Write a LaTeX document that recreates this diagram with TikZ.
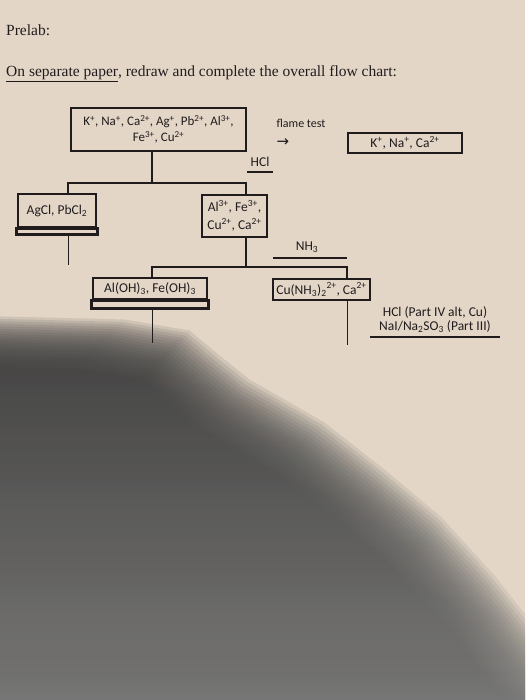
\documentclass[tikz,border=0pt]{standalone}
\usepackage{fontspec}
\setmainfont{Liberation Serif}
\newfontfamily\calib{Carlito}
\newfontfamily\dejavu{DejaVu Sans}
\definecolor{paper}{RGB}{227,214,198}
\definecolor{shade}{RGB}{70,58,84}
\definecolor{ink}{RGB}{32,28,30}
\begin{document}
\begin{tikzpicture}[x=1pt,y=-1pt,
  lbl/.style={font=\calib\fontsize{13.5}{15}\selectfont, text=ink, inner sep=0pt},
  thickbox/.style={draw=ink, line width=2.6pt, inner sep=0pt, lbl},
  thinbox/.style={draw=ink, line width=1.3pt, inner sep=0pt, lbl},
  wire/.style={draw=ink, line width=2.6pt},
  uline/.style={draw=ink, line width=2pt},
  thinwire/.style={draw=ink, line width=0.9pt},
]
\fill[paper] (0,0) rectangle (525,700);
\useasboundingbox (0,0) rectangle (525,700);
\begin{scope}
  \clip (0,0) rectangle (525,700);
  \foreach \s in {-35,-31.5,...,36} {
    \fill[shade, opacity=0.062, xshift=-0.7*\s pt, yshift=-0.7*\s pt]
      (-60,340) -- (100,344) -- (165,355) -- (195,380) -- (225,404) -- (300,447)
      -- (360,494) -- (417,542) -- (470,600) -- (500,638) -- (530,674)
      -- (620,780) -- (-60,780) -- cycle;
  }
\end{scope}

% heading
\node[anchor=base west, font=\fontsize{15.5}{18}\selectfont, text=ink, inner sep=0pt] (prelab) at (6,36) {Prelab:};
\node[anchor=base west, font=\fontsize{15.5}{18}\selectfont, text=ink, inner sep=0pt] (instr) at (6,77) {\underline{On separate paper}, redraw and complete the overall flow chart:};

% boxes
\node[thickbox, minimum width=175pt, minimum height=43pt, align=center, font=\calib\fontsize{13}{16}\selectfont] (mix0) at (158.5,129.5)
  {K\textsuperscript{+}, Na\textsuperscript{+}, Ca\textsuperscript{2+}, Ag\textsuperscript{+}, Pb\textsuperscript{2+}, Al\textsuperscript{3+},\\ Fe\textsuperscript{3+}, Cu\textsuperscript{2+}};
\node[lbl, font=\calib\fontsize{12}{14}\selectfont] (flame) at (301,123) {flame test};
\node[lbl, font=\dejavu\fontsize{15}{17}\selectfont] (arr) at (283,143) {→};
\node[thinbox, minimum width=114pt, minimum height=20pt] (kbox) at (405,143) {K\textsuperscript{+}, Na\textsuperscript{+}, Ca\textsuperscript{2+}};
\node[lbl] (hcl) at (260,162) {HCl};
\coordinate (hclA) at (247,172); \coordinate (hclB) at (273,172);
\draw[uline] (hclA) -- (hclB);

\node[thickbox, minimum width=78pt, minimum height=33pt] (agc) at (57,210.5) {AgCl, PbCl\textsubscript{2}};
\coordinate (agb) at ([yshift=-6pt]agc.south east);
\draw[wire] (agc.south west) rectangle (agb);
\node[thickbox, minimum width=65pt, minimum height=42pt, align=center, font=\calib\fontsize{13.5}{18}\selectfont] (mix1) at (234.5,216)
  {Al\textsuperscript{3+}, Fe\textsuperscript{3+},\\ Cu\textsuperscript{2+}, Ca\textsuperscript{2+}};

\coordinate (j0) at (152,183);
\coordinate (jl) at (68,183);
\coordinate (jr) at (246,183);
\draw[wire] (mix0.south -| j0) -- (j0);
\draw[wire] (agc.north -| jl) -- (jl) -- (jr) -- (mix1.north -| jr);
\coordinate (agend) at (68,265);
\draw[thinwire] (agb -| jl) -- (agend);

\node[lbl] (nh3) at (307,247) {NH\textsubscript{3}};
\coordinate (nhA) at (273,258); \coordinate (nhB) at (347,258);
\draw[uline] (nhA) -- (nhB);

\node[thickbox, minimum width=114pt, minimum height=21pt] (aloh) at (150,288.5) {Al(OH)\textsubscript{3}, Fe(OH)\textsubscript{3}};
\coordinate (alb) at ([yshift=-8pt]aloh.south east);
\draw[wire] (aloh.south west) rectangle (alb);
\node[thickbox, minimum width=97pt, minimum height=21pt] (cu) at (321.5,289.5) {Cu(NH\textsubscript{3})\textsubscript{2}\textsuperscript{2+}, Ca\textsuperscript{2+}};

\coordinate (k0) at (246,267);
\coordinate (kl) at (152,267);
\coordinate (kr) at (347,267);
\draw[wire] (mix1.south -| k0) -- (k0);
\draw[wire] (aloh.north -| kl) -- (kl) -- (kr) -- (cu.north -| kr);
\coordinate (alend) at (152,343);
\draw[thinwire] (alb -| kl) -- (alend);
\coordinate (cuend) at (347,345);
\draw[thinwire] (cu.south -| kr) -- (cuend);

\node[lbl] (hcl2) at (435,312) {HCl (Part IV alt, Cu)};
\node[lbl] (nai) at (435,327) {NaI/Na\textsubscript{2}SO\textsubscript{3} (Part III)};
\coordinate (naiA) at (370,337); \coordinate (naiB) at (500,337);
\draw[uline, line width=2.4pt] (naiA) -- (naiB);
\end{tikzpicture}
\end{document}
